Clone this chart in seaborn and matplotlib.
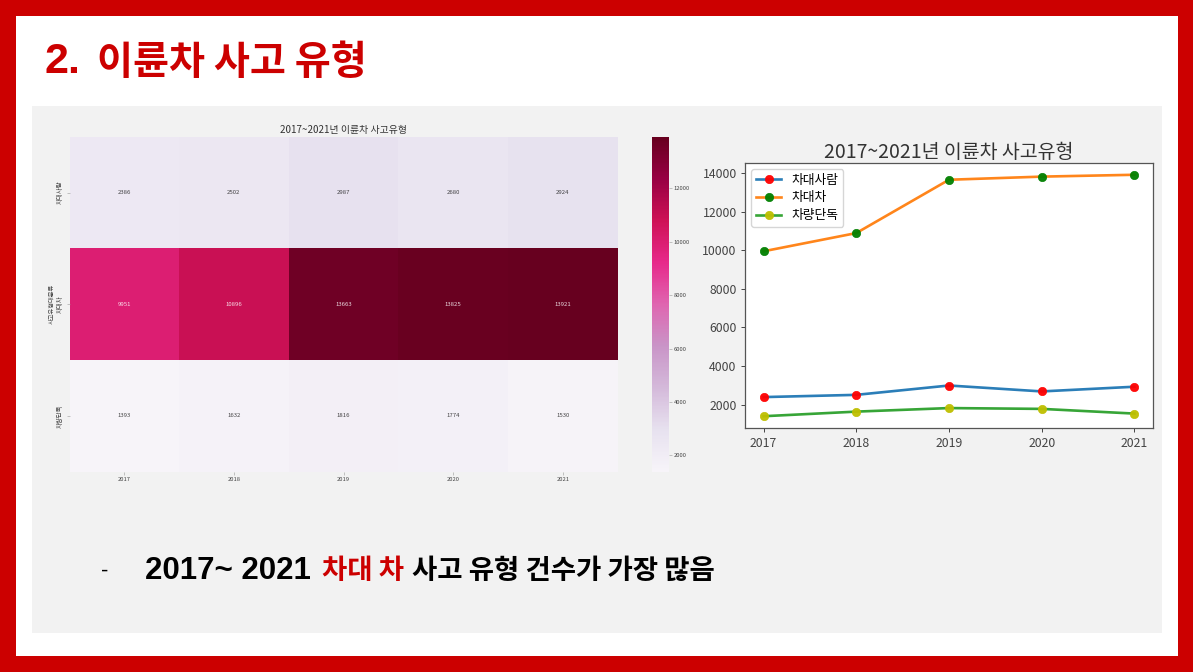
import numpy as np
import pandas as pd
import matplotlib
matplotlib.use('Agg')
import matplotlib.pyplot as plt
from matplotlib.patches import Rectangle
import seaborn as sns

# 데이터
years = [2017, 2018, 2019, 2020, 2021]
accident_types = ['차대사람', '차대차', '차량단독']
car_person = [2386, 2502, 2987, 2680, 2924]
car_car = [9951, 10896, 13663, 13825, 13921]
car_alone = [1393, 1632, 1816, 1774, 1530]
marker_colors = ['r', 'g', 'y']
line_colors = ['#1f77b4', '#ff7f0e', '#2ca02c']
cbar_ticks = [2000, 4000, 6000, 8000, 10000, 12000]

chart_title = '2017~2021년 이륜차 사고유형'
RED = '#CC0000'
W, H = 1193, 672

plt.rcParams['font.family'] = ['Noto Sans CJK KR', 'DejaVu Sans']
plt.rcParams['axes.unicode_minus'] = False

fig = plt.figure(figsize=(W / 100, H / 100), dpi=100, facecolor='white')


def box(x0, y0, x1, y1):
    # 픽셀 좌표(위에서 아래로)를 figure 좌표로 변환
    return [x0 / W, 1 - y1 / H, (x1 - x0) / W, (y1 - y0) / H]


def add_rect(x0, y0, x1, y1, color):
    l, b, w, h = box(x0, y0, x1, y1)
    fig.add_artist(Rectangle((l, b), w, h, transform=fig.transFigure, color=color, lw=0, zorder=-5))


def add_text(x, y, s, size, color='black', weight='normal', family=None):
    fig.text(x / W, 1 - y / H, s, fontsize=size, color=color, weight=weight,
             va='center', ha='left', family=family or ['Noto Sans CJK KR', 'DejaVu Sans'])


# 슬라이드 배경
add_rect(0, 0, W, 15.5, RED)
add_rect(0, 656, W, H, RED)
add_rect(0, 0, 15.5, H, RED)
add_rect(1178, 0, W, H, RED)
add_rect(32, 106, 1162, 633, '#F2F2F2')

latin_first = ['Liberation Sans', 'Noto Sans CJK KR']
add_text(45, 62, '2.', 31, RED, 'bold', latin_first)
add_text(97, 62, '이륜차 사고 유형', 28.2, RED, 'bold')
add_text(101, 571, '-', 16, 'black', 'normal', latin_first)
add_text(145, 571, '2017~ 2021', 22.5, 'black', 'bold', latin_first)
add_text(322, 571, '차대 차', 19.8, RED, 'bold')
add_text(412, 571, '사고 유형 건수가 가장 많음', 19.8, 'black', 'bold')

# 히트맵
df = pd.DataFrame([car_person, car_car, car_alone], index=accident_types, columns=years)
ax1 = fig.add_axes(box(69.5, 136.7, 617.7, 471.7))
cax = fig.add_axes(box(652.3, 136.7, 668.7, 471.7))
sns.heatmap(df, ax=ax1, cbar_ax=cax, cmap='PuRd', annot=True, fmt='d',
            annot_kws={'fontsize': 4.3, 'alpha': 0.85})
ax1.set_title(chart_title, fontsize=7.1, color='#333333', pad=3)
ax1.set_ylabel('사고유형대분류', fontsize=4.5, color='#444444', labelpad=0.5)
ax1.set_xlabel('')
ax1.tick_params(axis='x', labelsize=4.2, length=2, width=0.4, color='#999999', labelcolor='#444444', pad=2)
ax1.tick_params(axis='y', labelsize=4.6, length=2, width=0.4, color='#999999', labelcolor='#444444', pad=2)
ax1.set_yticklabels(accident_types, rotation=90, va='center')
cax.set_yticks(cbar_ticks)
cax.tick_params(labelsize=4.2, length=2, width=0.4, color='#999999', labelcolor='#444444', pad=1.5)

# 선 그래프
ax2 = fig.add_axes(box(745, 162.7, 1153, 428.3))
for name, vals, lc, mc in zip(accident_types, [car_person, car_car, car_alone], line_colors, marker_colors):
    sns.lineplot(x=years, y=vals, ax=ax2, label=name, color=lc, lw=1.9, alpha=0.95, marker='o', ms=6,
                 markerfacecolor=mc, markeredgecolor=mc, markeredgewidth=0.5)
ax2.set_xticks(years)
ax2.set_title(chart_title, fontsize=14, color='#333333', pad=3)
ax2.tick_params(labelsize=8.8, labelcolor='#444444', color='#444444', length=3, width=0.7, pad=3)
for sp in ax2.spines.values():
    sp.set_color('#555555')
    sp.set_linewidth(0.9)
ax2.legend(loc='upper left', fontsize=9.2, labelspacing=0.38, handlelength=2, borderpad=0.35)

fig.savefig('out.png', dpi=100)
